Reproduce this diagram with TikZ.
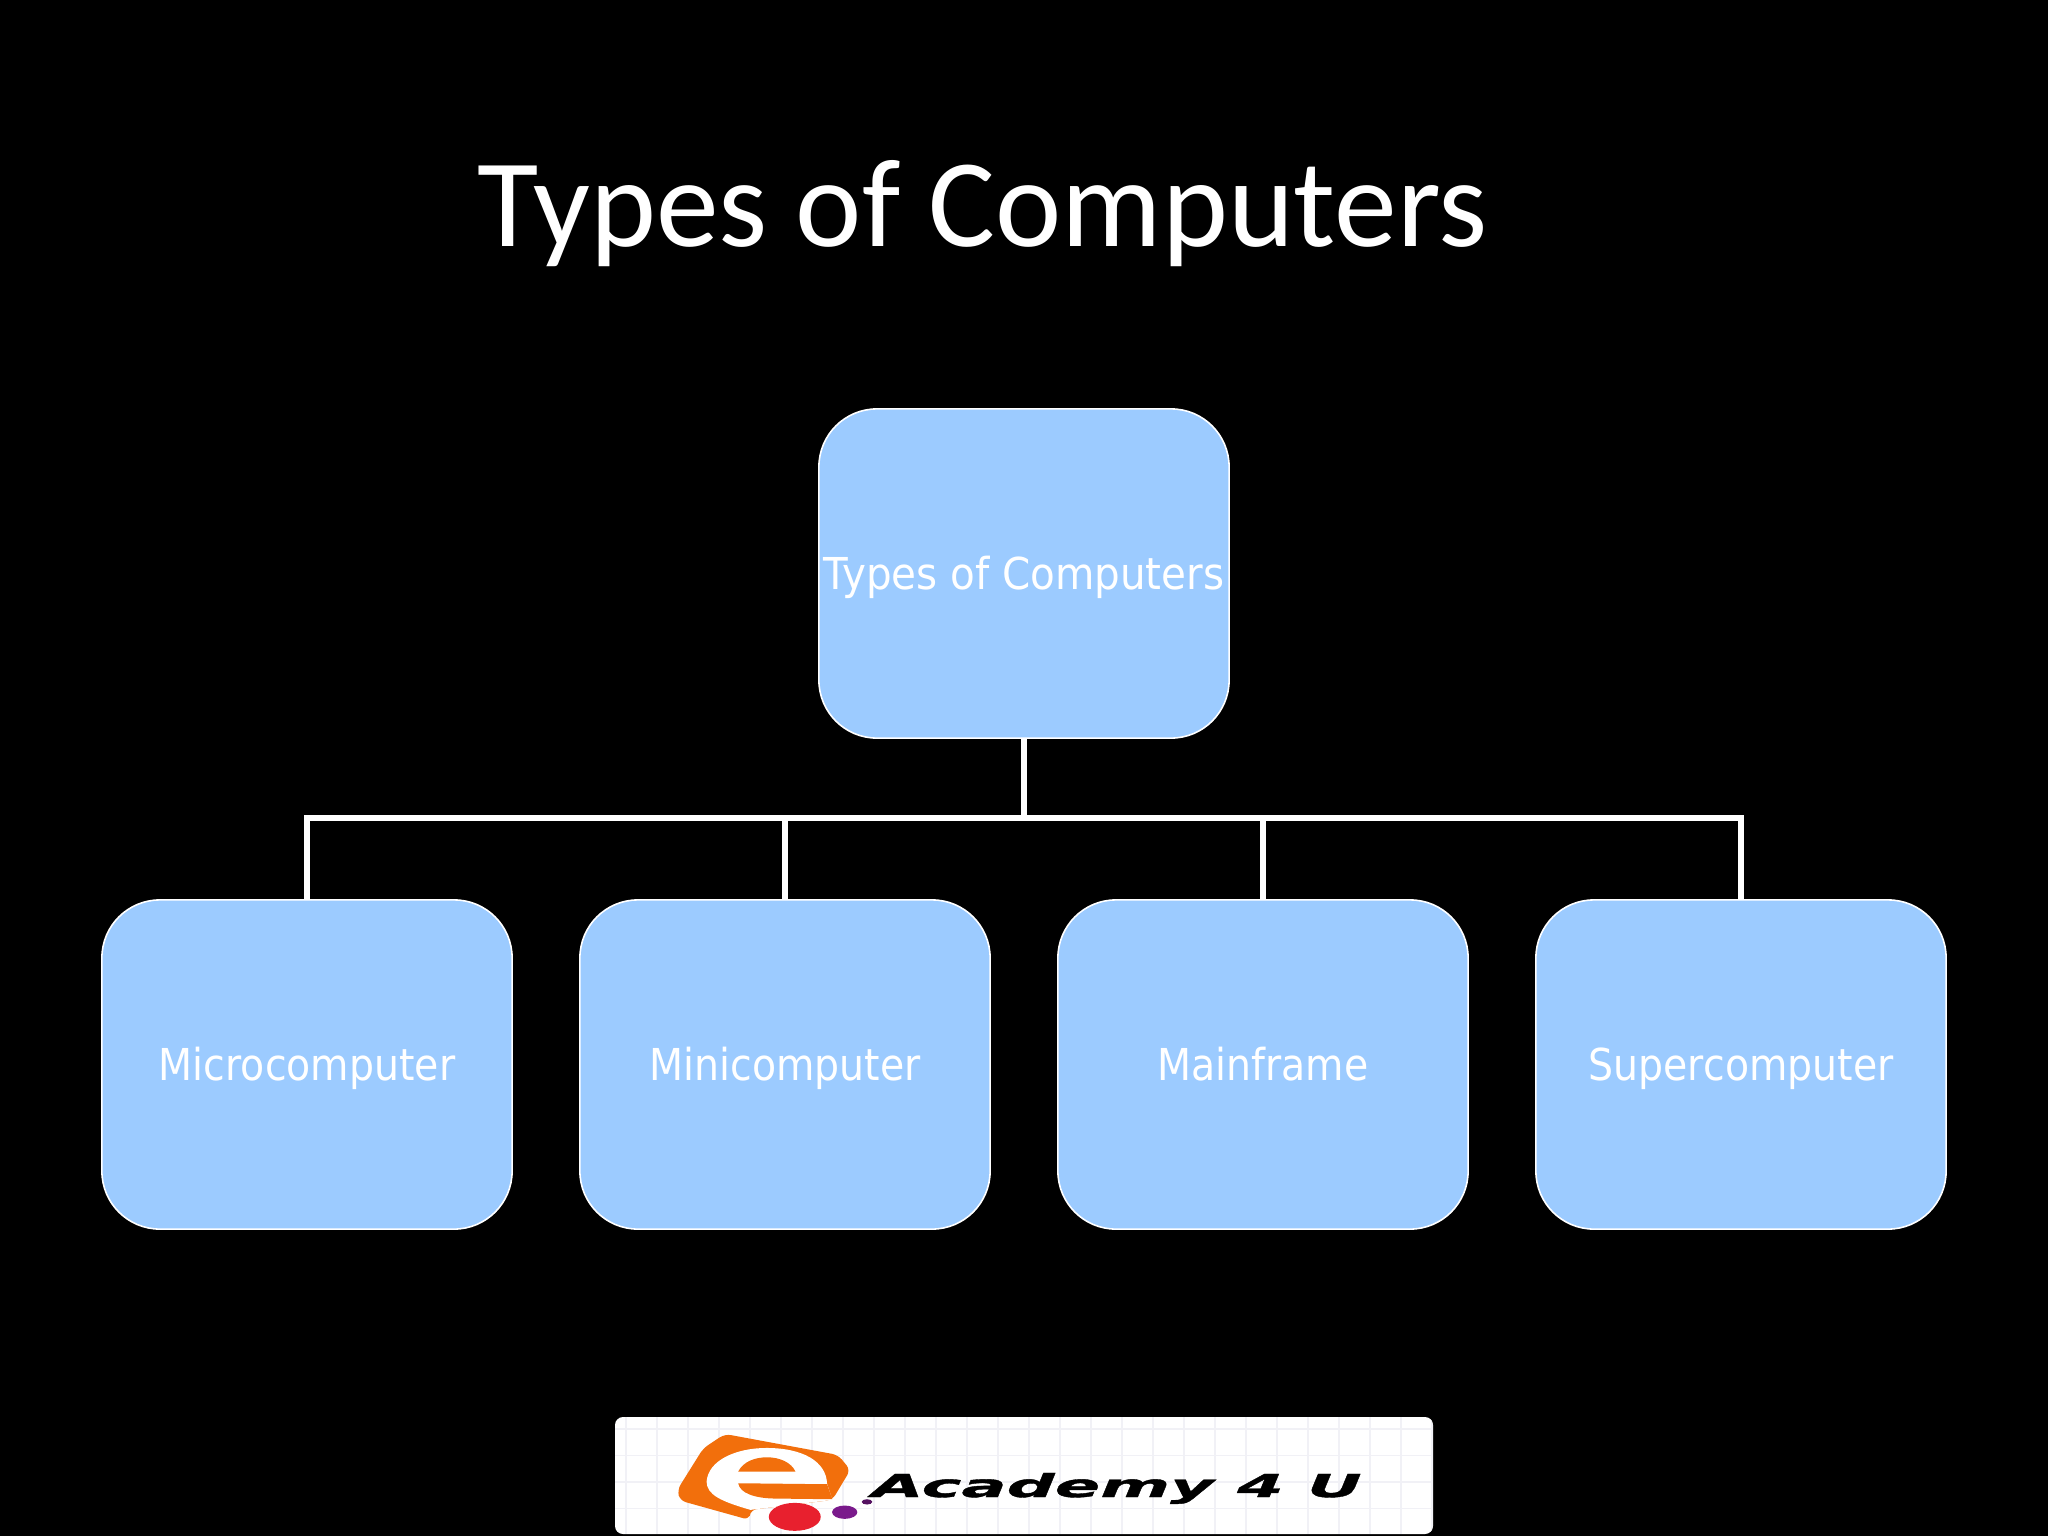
\documentclass[tikz,border=0pt]{standalone}
\usepackage{fontspec}
\setmainfont{Carlito}
\newfontfamily\boxfont[FakeStretch=0.92]{DejaVu Sans}
\newfontfamily\lowfont[FakeStretch=0.897]{DejaVu Sans}
\newfontfamily\logofont[FakeStretch=2.12,BoldItalicFeatures={FakeBold=1.2}]{DejaVu Sans}
\definecolor{boxblue}{HTML}{9CCBFF}
\definecolor{logoorange}{HTML}{F26F0C}
\definecolor{logored}{HTML}{E8202E}
\definecolor{logopurple}{HTML}{7A1A8B}
\definecolor{loggrid}{HTML}{F1F1F6}
\tikzset{
  orgbox/.style={draw=white,line width=0.45pt,fill=boxblue,rounded corners=0.58cm,
    minimum width=4.1cm,minimum height=3.29cm,inner sep=0pt,text=white,
    text height=9.1pt,text depth=0pt,font=\boxfont\fontsize{12.5}{15}\selectfont},
  lowbox/.style={orgbox,font=\lowfont\fontsize{12.5}{15}\selectfont},
  link/.style={draw=white,line width=1.8pt},
}
\begin{document}
\begin{tikzpicture}[x=0.01cm,y=-0.01cm]
\useasboundingbox (0,0) rectangle (2048,1536);
\fill[black] (0,0) rectangle (2048,1536);
\node[anchor=base,text=white,inner sep=0pt,font=\fontsize{35.7}{42}\selectfont] (title) at (983,246) {Types of Computers};
\node[orgbox] (top) at (1024,573.5) {Types of Computers};
\node[lowbox] (micro) at (307,1064.5) {Microcomputer};
\node[lowbox] (mini) at (785,1064.5) {Minicomputer};
\node[lowbox] (main) at (1263,1064.5) {Mainframe};
\node[lowbox] (super) at (1741,1064.5) {Supercomputer};
\coordinate (bus) at (1024,818);
\draw[link] (top.south) -- (bus);
\draw[link] (micro.north) |- (bus);
\draw[link] (mini.north) |- (bus);
\draw[link] (main.north) |- (bus);
\draw[link] (super.north) |- (bus);
% logo
\fill[white,rounded corners=0.08cm] (615,1417) rectangle (1433,1534);
\begin{scope}
\clip[rounded corners=0.08cm] (615,1417) rectangle (1433,1534);
\foreach \gx in {626,657,...,1433} \draw[loggrid,line width=0.5pt] (\gx,1417) -- (\gx,1534);
\foreach \gy in {1429,1455.5,1482,1508.5} \draw[loggrid,line width=0.5pt] (615,\gy) -- (1433,\gy);
\end{scope}
\begin{scope}[shift={(660,1420)},x=0.003333cm,y=-0.003333cm]
\fill[logoorange,rounded corners=0.06cm] (52,210) -- (130,85) -- (195,42) -- (535,105) -- (572,150) -- (518,240) -- (272,270) -- (268,300) -- (60,242) -- cycle;
\fill[white] (272,270) .. controls (185,245) and (140,225) .. (140,185) .. controls (145,120) and (230,84) .. (320,84) .. controls (430,84) and (500,125) .. (502,192) -- (518,240) -- cycle;
\fill[logoorange] (235,155) .. controls (250,125) and (285,112) .. (322,112) .. controls (360,112) and (395,128) .. (407,155) -- cycle;
\fill[logoorange] (235,190) -- (502,193) -- (518,238) -- (345,236) .. controls (285,235) and (240,220) .. (235,190) -- cycle;
\fill[logored] (405,291) ellipse [x radius=78,y radius=42];
\fill[logopurple] (555,277) ellipse [x radius=38,y radius=20];
\fill[logopurple!70!black] (622,246) ellipse [x radius=16,y radius=8];
\end{scope}
\node[anchor=base west,inner sep=0pt,text=black,font=\logofont\bfseries\itshape\fontsize{9}{10}\selectfont] (logotext) at (871,1497) {Academy 4 U};
\end{tikzpicture}
\end{document}
